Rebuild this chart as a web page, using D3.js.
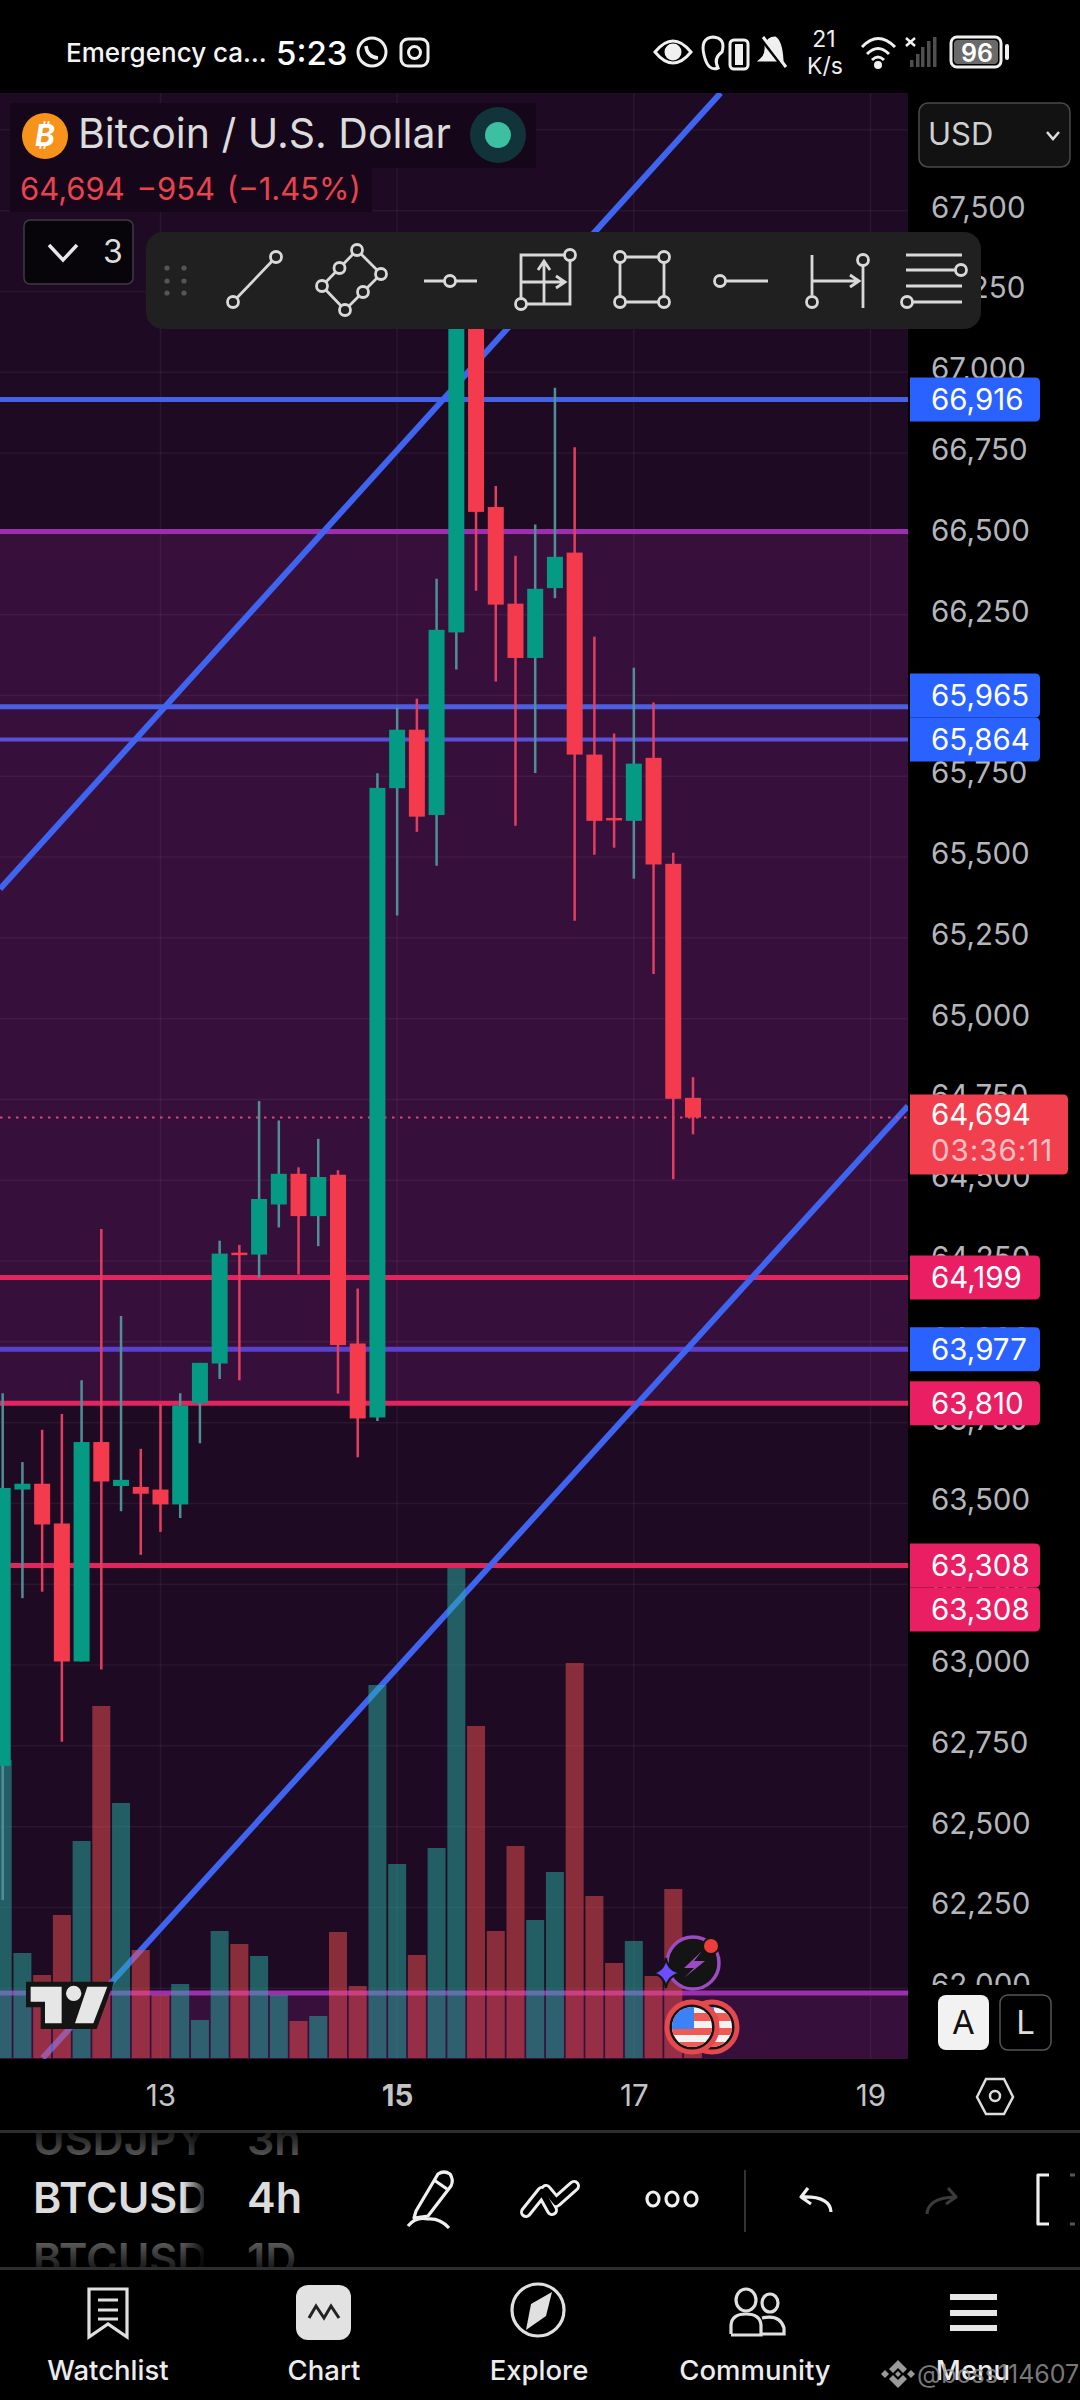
<!DOCTYPE html>
<html>
<head>
<meta charset="utf-8">
<script src="https://cdnjs.cloudflare.com/ajax/libs/d3/7.8.5/d3.min.js"></script>
<style>
  html, body { margin: 0; background: #000; }
  svg { display: block; }
  text { font-family: Inter, Roboto, sans-serif; }
</style>
</head>
<body>
<div id="chart"></div>
<script>
// 4h candles
const candleOpen = [62688, 63543, 63561, 63438, 63011, 63690, 63554, 63551, 63543, 63497, 63810, 63933,
  64276, 64270, 64425, 64520, 64389, 64517, 63995, 63766, 65713, 65894, 65630, 66195,
  67317, 66583, 66284, 66116, 66332, 66442, 65817, 65621, 65612, 65807, 65479, 64755];
const candleHigh = [63841, 63628, 63728, 63777, 63881, 64349, 64080, 63669, 63807, 63841, 63935, 64313,
  64300, 64745, 64685, 64540, 64628, 64531, 64165, 65759, 65963, 65990, 66361, 67400,
  67400, 66648, 66432, 66529, 66952, 66768, 66182, 65882, 66086, 65978, 65513, 64819];
const candleLow = [62273, 63207, 63227, 62763, 63011, 62986, 63476, 63341, 63412, 63455, 63686, 63885,
  63881, 64198, 64354, 64208, 64296, 63840, 63643, 63755, 65319, 65578, 65473, 66080,
  66324, 66043, 65597, 65760, 66301, 65303, 65507, 65529, 65433, 65138, 64503, 64642];
const candleClose = [63548, 63561, 63435, 63011, 63690, 63568, 63573, 63530, 63497, 63803, 63935, 64273,
  64269, 64442, 64520, 64389, 64510, 63990, 63763, 65714, 65894, 65625, 66203, 67317,
  66568, 66281, 66116, 66330, 66429, 65817, 65612, 65615, 65789, 65477, 64752, 64694];
// volume, in the pane's own units (no scale shown)
const volumes = [298, 105, 83, 143, 217, 352, 255, 108, 63, 74, 38, 127,
  114, 102, 63, 37, 42, 126, 72, 373, 194, 103, 210, 490,
  332, 127, 212, 138, 186, 395, 162, 95, 117, 82, 169, 8];

const priceTicks = [67750, 67500, 67250, 67000, 66750, 66500, 66250, 66000, 65750, 65500, 65250, 65000,
  64750, 64500, 64250, 64000, 63750, 63500, 63250, 63000, 62750, 62500, 62250, 62000];
const timeTickIndex = [8, 20, 32, 44];
const timeTickLabels = ["13", "15", "17", "19"];

const levelPrices = [66916, 66507, 65965, 65864, 64199, 63977, 63810, 63308, 61985];
const levelKinds = ["blue", "purple", "blue2", "blue3", "pink", "blue4", "pink", "pink", "purple"];
const bandTop = [66507, 61985];
const bandBottom = [63810, 61700];
// trend lines: candle index / price at both ends
const trendIndex = [[-0.14, 36.4], [2.03, 45.9]];
const trendPrice = [[65401, 67864], [61784, 64730]];

const tagPrices = [66916, 65965, 65864, 64199, 63977, 63810, 63308, 63308];
const tagKinds = ["blue", "blue", "blue", "pink", "blue", "pink", "pink", "pink"];
const lastPrice = 64694;
const lastCountdown = "03:36:11";

const navLabels = ["Watchlist", "Chart", "Explore", "Community", "Menu"];
const pickerSymbols = ["USDJPY", "BTCUSD", "BTCUSD"];
const pickerFrames = ["3h", "4h", "1D"];

const width = 1080, height = 2400;
const plotW = 908, plotTop = 93, plotBottom = 2059;

const green = "#059a83", red = "#f43b4d";
const lineColors = { blue: "#4362e6", blue2: "#4a5fe2", blue3: "#5a50d8", blue4: "#5a40cc", purple: "#9c2fae", pink: "#e0255f" };
const tagColors = { blue: "#2962ff", pink: "#e91e63" };

var x = d3.scaleLinear().domain([0, 44]).range([2.7, 870.5]);
var y = d3.scaleLinear().domain([66916, 63308]).range([399.4, 1565.5]);
var yVol = d3.scaleLinear().domain([0, 500]).range([2058, 1558]);

var svg = d3.select("#chart").append("svg").attr("width", width).attr("height", height);
svg.append("rect").attr("width", width).attr("height", height).attr("fill", "#000");

svg.append("clipPath").attr("id", "plot").append("rect")
  .attr("x", 0).attr("y", plotTop).attr("width", plotW).attr("height", plotBottom - plotTop);

var plot = svg.append("g").attr("clip-path", "url(#plot)");
plot.append("rect").attr("x", 0).attr("y", plotTop).attr("width", plotW).attr("height", plotBottom - plotTop).attr("fill", "#1f0a24");

// zones
plot.selectAll(".band").data(bandTop).enter().append("rect")
  .attr("x", 0).attr("width", plotW)
  .attr("y", (d) => y(d))
  .attr("height", (d, i) => y(bandBottom[i]) - y(d))
  .attr("fill", "#370f3b");

// grid
plot.selectAll(".gh").data(priceTicks).enter().append("line")
  .attr("x1", 0).attr("x2", plotW).attr("y1", (d) => y(d)).attr("y2", (d) => y(d))
  .attr("stroke", "rgba(255,255,255,0.05)").attr("stroke-width", 1.5);
plot.selectAll(".gv").data(timeTickIndex).enter().append("line")
  .attr("x1", (d) => x(d)).attr("x2", (d) => x(d)).attr("y1", plotTop).attr("y2", plotBottom)
  .attr("stroke", "rgba(255,255,255,0.05)").attr("stroke-width", 1.5);

// drawn levels and trend lines
plot.selectAll(".level").data(levelPrices).enter().append("line")
  .attr("x1", 0).attr("x2", plotW).attr("y1", (d) => y(d)).attr("y2", (d) => y(d))
  .attr("stroke", (d, i) => lineColors[levelKinds[i]])
  .attr("stroke-width", (d, i) => (levelKinds[i] == "blue3" ? 4 : 5));
plot.selectAll(".trend").data(trendIndex).enter().append("line")
  .attr("x1", (d) => x(d[0])).attr("x2", (d) => x(d[1]))
  .attr("y1", (d, i) => y(trendPrice[i][0])).attr("y2", (d, i) => y(trendPrice[i][1]))
  .attr("stroke", "#3f65f0").attr("stroke-width", 6);

// volume
plot.selectAll(".vol").data(volumes).enter().append("rect")
  .attr("x", (d, i) => x(i) - 9).attr("width", 18)
  .attr("y", (d) => yVol(d)).attr("height", (d) => yVol(0) - yVol(d))
  .attr("fill", (d, i) => (candleClose[i] >= candleOpen[i] ? "#25b2a4" : "#f55052"))
  .attr("fill-opacity", 0.5);

// last price dotted line
plot.append("line").attr("x1", 0).attr("x2", plotW).attr("y1", y(lastPrice)).attr("y2", y(lastPrice))
  .attr("stroke", "#e8436e").attr("stroke-width", 2).attr("stroke-dasharray", "2.5 5.5");

// candles
var candle = plot.selectAll(".candle").data(candleOpen).enter().append("g");
candle.append("line")
  .attr("x1", (d, i) => x(i)).attr("x2", (d, i) => x(i))
  .attr("y1", (d, i) => y(candleHigh[i])).attr("y2", (d, i) => y(candleLow[i]))
  .attr("stroke", (d, i) => (candleClose[i] >= d ? "#4f9096" : "#e23f60")).attr("stroke-width", 2.5);
candle.append("rect")
  .attr("x", (d, i) => x(i) - 8).attr("width", 16)
  .attr("y", (d, i) => y(Math.max(d, candleClose[i])))
  .attr("height", (d, i) => Math.max(2.5, Math.abs(y(d) - y(candleClose[i]))))
  .attr("fill", (d, i) => (candleClose[i] >= d ? green : red));

// price axis
var yAxis = svg.append("g").attr("transform", "translate(931,0)")
  .call(d3.axisRight(y).tickValues(priceTicks).tickFormat(d3.format(",")).tickSize(0).tickPadding(0));
yAxis.select(".domain").remove();
yAxis.selectAll("text").attr("fill", "#b4b6bb").attr("font-size", 29.5).attr("dy", "0.22em");
svg.append("rect").attr("x", 908).attr("y", 1985).attr("width", 172).attr("height", 74).attr("fill", "#000");

// time axis
var xAxis = svg.append("g").attr("transform", "translate(0," + plotBottom + ")")
  .call(d3.axisBottom(x).tickValues(timeTickIndex).tickFormat((d, i) => timeTickLabels[i]).tickSize(0).tickPadding(26));
xAxis.select(".domain").remove();
xAxis.selectAll("text").attr("fill", "#c4c4c4").attr("font-size", 29.5).attr("font-weight", (d, i) => (i == 1 ? 700 : 400));

// price tags, pushed apart where they would overlap
function tagPath(x0, x1, y0, y1) {
  const r = 5;
  return "M" + x0 + "," + y0 + "H" + (x1 - r) + "Q" + x1 + "," + y0 + " " + x1 + "," + (y0 + r) +
    "V" + (y1 - r) + "Q" + x1 + "," + y1 + " " + (x1 - r) + "," + y1 + "H" + x0 + "Z";
}
const tagY = tagPrices.map((d) => y(d));
tagPrices.forEach((d, i) => {
  if (i == 0 || tagY[i] - tagY[i - 1] >= 44) return;
  if (d == tagPrices[i - 1]) tagY[i] = tagY[i - 1] + 44;
  else tagY[i - 1] = tagY[i] - 44;
});
var tags = svg.selectAll(".tag").data(tagPrices).enter().append("g");
tags.append("path")
  .attr("d", (d, i) => tagPath(910, 1040, tagY[i] - 22, tagY[i] + 22))
  .attr("fill", (d, i) => tagColors[tagKinds[i]]);
tags.append("text").attr("x", 931).attr("y", (d, i) => tagY[i]).attr("dy", "0.36em")
  .attr("fill", "#fff").attr("font-size", 29.5).text((d) => d3.format(",")(d));

svg.append("path").attr("d", tagPath(910, 1068, y(lastPrice) - 23, y(lastPrice) + 57)).attr("fill", "#f23f4e");
svg.append("text").attr("x", 931).attr("y", y(lastPrice) - 3).attr("dy", "0.36em").attr("fill", "#fff")
  .attr("font-size", 29.5).text(d3.format(",")(lastPrice));
svg.append("text").attr("x", 931).attr("y", y(lastPrice) + 33).attr("dy", "0.36em").attr("fill", "#ffc0c4")
  .attr("font-size", 29.5).attr("letter-spacing", 1).text(lastCountdown);

// legend
svg.append("rect").attr("x", 10).attr("y", 103).attr("width", 526).attr("height", 65).attr("fill", "#16061a");
svg.append("rect").attr("x", 10).attr("y", 168).attr("width", 362).attr("height", 44).attr("fill", "#16061a");
svg.append("circle").attr("cx", 45).attr("cy", 136).attr("r", 23).attr("fill", "#f7931a");
svg.append("text").attr("x", 45).attr("y", 146).attr("text-anchor", "middle").attr("fill", "#fff")
  .attr("font-size", 30).attr("font-weight", 700).attr("font-style", "italic").text("₿");
svg.append("text").attr("x", 78).attr("y", 148).attr("fill", "#dcdcdc").attr("font-size", 41).text("Bitcoin / U.S. Dollar");
svg.append("circle").attr("cx", 498).attr("cy", 135).attr("r", 28).attr("fill", "#11333a");
svg.append("circle").attr("cx", 498).attr("cy", 135).attr("r", 13).attr("fill", "#3dbfa2");
svg.append("text").attr("x", 20).attr("y", 200).attr("fill", "#e8444f").attr("font-size", 31).attr("word-spacing", 3)
  .text(d3.format(",")(lastPrice) + " −954 (−1.45%)");

svg.append("rect").attr("x", 24).attr("y", 220).attr("width", 109).attr("height", 64).attr("rx", 6)
  .attr("fill", "#07040a").attr("stroke", "#3c3c44").attr("stroke-width", 1.5);
svg.append("path").attr("d", "M49,245L63,260L77,245").attr("fill", "none").attr("stroke", "#e8e8e8").attr("stroke-width", 3.5);
svg.append("text").attr("x", 103).attr("y", 263).attr("fill", "#ddd").attr("font-size", 32).text("3");

// USD box
svg.append("rect").attr("x", 919).attr("y", 103).attr("width", 151).attr("height", 64).attr("rx", 9)
  .attr("fill", "#121212").attr("stroke", "#4a4a4a").attr("stroke-width", 1.5);
svg.append("text").attr("x", 928).attr("y", 145).attr("fill", "#d0d0d0").attr("font-size", 31).text("USD");
svg.append("path").attr("d", "M1047,132L1053,139L1059,132").attr("fill", "none").attr("stroke", "#ddd").attr("stroke-width", 2.5);

// floating drawing toolbar
svg.append("rect").attr("x", 146).attr("y", 232).attr("width", 835).attr("height", 97).attr("rx", 17).attr("fill", "#202020");
var tb = svg.append("g").attr("fill", "none").attr("stroke", "#d9d9d9").attr("stroke-width", 2.8);
[167, 184].forEach((a) => [268, 281, 293].forEach((b) =>
  tb.append("circle").attr("cx", a).attr("cy", b).attr("r", 2.6).attr("fill", "#555").attr("stroke", "none")));
function tl(d) { tb.append("path").attr("d", d); }
function th(a, b) { tb.append("circle").attr("cx", a).attr("cy", b).attr("r", 5.5).attr("fill", "#202020"); }
tl("M233,302L276,257"); th(233, 302); th(276, 257);
tl("M357,250L322,286L345,310L381,274Z");
[[357, 250], [339.5, 268], [322, 286], [345, 310], [363, 292], [381, 274]].forEach((p) => th(p[0], p[1]));
tl("M424,281H477"); th(450, 281);
tl("M570,255H521V304H570V255"); tl("M544,304V262M538,270L544,261L550,270"); tl("M521,282H564M556,276L565,282L556,288");
th(570, 255); th(521, 304);
tl("M620,257H664V302H620Z"); th(620, 257); th(664, 257); th(620, 302); th(664, 302);
th(720, 281); tl("M726,281H768");
tl("M812,255V295M812,281H858M850,275L859,281L850,287M863,266V308"); th(812, 302); th(863, 260);
tl("M906,255H962M906,270H955M906,286H962M913,302H962"); th(961, 270); th(907, 302);

// small markers on the chart
var tv = svg.append("g").attr("transform", "translate(0,1950) scale(0.3333)");
tv.append("path").attr("d", "M78,95H342L290,237H122V172H78Z").attr("fill", "#141414");
tv.append("path").attr("d", "M92,110H185V220H135V155H92Z").attr("fill", "#e6e6e6");
tv.append("circle").attr("cx", 221).attr("cy", 130).attr("r", 23).attr("fill", "#e6e6e6");
tv.append("path").attr("d", "M262,110H322L280,220H225Z").attr("fill", "#e6e6e6");

svg.append("circle").attr("cx", 693).attr("cy", 1963).attr("r", 26).attr("fill", "#141414").attr("stroke", "#9c4cc0").attr("stroke-width", 3.5);
svg.append("path").attr("d", "M702,1951L684,1968H694L684,1978L705,1961H694Z").attr("fill", "#9c4cc0");
svg.append("circle").attr("cx", 711).attr("cy", 1946).attr("r", 8).attr("fill", "#ee3b3b").attr("stroke", "#141414").attr("stroke-width", 2);
svg.append("path").attr("d", "M666,1958Q668,1971 682,1973Q668,1975 666,1988Q664,1975 652,1973Q664,1971 666,1958Z")
  .attr("fill", "#6c4dff").attr("stroke", "#141414").attr("stroke-width", 2);

function flag(cx, id) {
  const cy = 2027, r = 20;
  svg.append("clipPath").attr("id", id).append("circle").attr("cx", cx).attr("cy", cy).attr("r", r);
  svg.append("circle").attr("cx", cx).attr("cy", cy).attr("r", 25).attr("fill", "#141414").attr("stroke", "#e5484d").attr("stroke-width", 5);
  var g = svg.append("g").attr("clip-path", "url(#" + id + ")");
  g.append("rect").attr("x", cx - r).attr("y", cy - r).attr("width", 2 * r).attr("height", 2 * r).attr("fill", "#f2f2f2");
  g.append("rect").attr("x", cx - r).attr("y", cy - 14).attr("width", 2 * r).attr("height", 8).attr("fill", "#f05a55");
  g.append("rect").attr("x", cx - r).attr("y", cy + 1).attr("width", 2 * r).attr("height", 7).attr("fill", "#f05a55");
  g.append("rect").attr("x", cx - r).attr("y", cy + 15).attr("width", 2 * r).attr("height", 6).attr("fill", "#f05a55");
  g.append("rect").attr("x", cx - r).attr("y", cy - r).attr("width", r + 2).attr("height", r + 2).attr("fill", "#3b82f6");
}
flag(712, "flagB");
flag(692, "flagA");

// A / L buttons
svg.append("rect").attr("x", 938).attr("y", 1995).attr("width", 51).attr("height", 55).attr("rx", 8).attr("fill", "#f2f2f2");
svg.append("text").attr("x", 963.5).attr("y", 2034).attr("text-anchor", "middle").attr("fill", "#111").attr("font-size", 33).text("A");
svg.append("rect").attr("x", 1000).attr("y", 1995).attr("width", 51).attr("height", 55).attr("rx", 8).attr("fill", "#000").attr("stroke", "#555").attr("stroke-width", 1.5);
svg.append("text").attr("x", 1025.5).attr("y", 2034).attr("text-anchor", "middle").attr("fill", "#ddd").attr("font-size", 33).text("L");
svg.append("path").attr("d", "M977,2097L986,2079H1004L1013,2097L1004,2114H986Z").attr("fill", "none").attr("stroke", "#ddd").attr("stroke-width", 2.5);
svg.append("circle").attr("cx", 995).attr("cy", 2096).attr("r", 5).attr("fill", "none").attr("stroke", "#ddd").attr("stroke-width", 2.5);

// status bar
svg.append("text").attr("x", 66).attr("y", 62).attr("fill", "#f4f4f4").attr("font-size", 26).attr("font-weight", 500).text("Emergency ca…");
svg.append("text").attr("x", 276).attr("y", 65).attr("fill", "#fff").attr("font-size", 33).attr("font-weight", 500).text("5:23");
var st = svg.append("g").attr("fill", "none").attr("stroke", "#f0f0f0").attr("stroke-width", 3);
st.append("circle").attr("cx", 372).attr("cy", 52).attr("r", 14);
st.append("path").attr("d", "M366,46Q367,57 378,58").attr("stroke-width", 3.5);
st.append("rect").attr("x", 401).attr("y", 39).attr("width", 27).attr("height", 27).attr("rx", 7);
st.append("circle").attr("cx", 414.5).attr("cy", 52.5).attr("r", 6);
st.append("path").attr("d", "M655,52Q673,30 691,52Q673,74 655,52Z");
st.append("circle").attr("cx", 673).attr("cy", 52).attr("r", 7).attr("fill", "#f0f0f0");
st.append("path").attr("d", "M704,55Q700,38 713,37Q726,38 722,52Q713,58 718,68Q708,72 704,55Z");
st.append("rect").attr("x", 730).attr("y", 40).attr("width", 18).attr("height", 29).attr("rx", 4);
st.append("rect").attr("x", 735).attr("y", 44).attr("width", 8).attr("height", 21).attr("fill", "#f0f0f0").attr("stroke", "none");
st.append("path").attr("d", "M761,60Q767,55 766,46Q768,38 775,38Q781,42 782,60Z").attr("fill", "#f0f0f0");
st.append("path").attr("d", "M761,37L785,68").attr("stroke", "#000").attr("stroke-width", 5);
st.append("path").attr("d", "M763,37L786,67");
svg.append("text").attr("x", 824).attr("y", 47).attr("text-anchor", "middle").attr("fill", "#f0f0f0").attr("font-size", 23).text("21");
svg.append("text").attr("x", 825).attr("y", 74).attr("text-anchor", "middle").attr("fill", "#f0f0f0").attr("font-size", 23).text("K/s");
st.append("path").attr("d", "M862,47Q878,30 895,47M867,54Q878,43 889,54M872,60Q878,54 884,60");
st.append("circle").attr("cx", 878).attr("cy", 65).attr("r", 2.5).attr("fill", "#f0f0f0");
svg.append("path").attr("d", "M906,38L915,46M915,38L906,46").attr("stroke", "#f0f0f0").attr("stroke-width", 2.5);
[[910, 60], [916, 54], [921, 47], [927, 41], [933, 37]].forEach((b) =>
  svg.append("rect").attr("x", b[0]).attr("y", b[1]).attr("width", 3.5).attr("height", 67 - b[1]).attr("fill", "#4f4f4f"));
st.append("rect").attr("x", 951).attr("y", 37).attr("width", 50).attr("height", 30).attr("rx", 6);
svg.append("rect").attr("x", 954).attr("y", 40).attr("width", 44).attr("height", 24).attr("rx", 4).attr("fill", "#6a6a6a");
svg.append("rect").attr("x", 1005).attr("y", 44).attr("width", 4).attr("height", 16).attr("rx", 2).attr("fill", "#f0f0f0");
svg.append("text").attr("x", 977).attr("y", 62).attr("text-anchor", "middle").attr("fill", "#fff").attr("font-size", 25).attr("font-weight", 600).text("96");

// symbol picker
svg.append("rect").attr("x", 0).attr("y", 2130).attr("width", width).attr("height", 3).attr("fill", "#2e2e2e");
svg.append("rect").attr("x", 0).attr("y", 2267).attr("width", width).attr("height", 3).attr("fill", "#2e2e2e");
svg.append("clipPath").attr("id", "picker").append("rect").attr("x", 0).attr("y", 2133).attr("width", 204).attr("height", 134);
svg.append("clipPath").attr("id", "pickerF").append("rect").attr("x", 204).attr("y", 2133).attr("width", 200).attr("height", 134);
var defs = svg.append("defs");
var fade = defs.append("linearGradient").attr("id", "fadeR");
fade.append("stop").attr("offset", "60%").attr("stop-color", "#000").attr("stop-opacity", 0);
fade.append("stop").attr("offset", "100%").attr("stop-color", "#000").attr("stop-opacity", 0.85);
var fadeV = defs.append("linearGradient").attr("id", "fadeV").attr("gradientUnits", "userSpaceOnUse")
  .attr("x1", 0).attr("x2", 0).attr("y1", 2133).attr("y2", 2267);
[[0, "#1c1c1c"], [0.17, "#555"], [0.32, "#dcdcdc"], [0.68, "#dcdcdc"], [0.83, "#555"], [1, "#1c1c1c"]].forEach((s) =>
  fadeV.append("stop").attr("offset", s[0]).attr("stop-color", s[1]));
const pickerY = [2140, 2198, 2259];
svg.append("g").attr("clip-path", "url(#picker)").selectAll("text").data(pickerSymbols).enter().append("text")
  .attr("x", 33).attr("y", (d, i) => pickerY[i]).attr("dy", "0.36em")
  .attr("fill", "url(#fadeV)").attr("font-size", 43).attr("font-weight", 600).text((d) => d);
svg.append("rect").attr("x", 150).attr("y", 2133).attr("width", 55).attr("height", 134).attr("fill", "url(#fadeR)");
svg.append("g").attr("clip-path", "url(#pickerF)").selectAll("text").data(pickerFrames).enter().append("text")
  .attr("x", 247).attr("y", (d, i) => pickerY[i]).attr("dy", "0.36em")
  .attr("fill", "url(#fadeV)").attr("font-size", 43).attr("font-weight", 600).text((d) => d);

var bt = svg.append("g").attr("fill", "none").attr("stroke", "#f0f0f0").attr("stroke-width", 3.2).attr("stroke-linejoin", "round");
bt.append("path").attr("d", "M416,2211L438,2174Q444,2170 450,2174Q454,2180 451,2186L428,2216L414,2218Z");
bt.append("path").attr("d", "M434,2180L447,2189");
bt.append("path").attr("d", "M408,2226Q416,2216 428,2219Q440,2218 449,2228");
[["#f0f0f0", 12], ["#000", 6]].forEach((s) => {
  svg.append("path").attr("d", "M526,2212L542,2192L552,2210").attr("fill", "none").attr("stroke", s[0]).attr("stroke-width", s[1]).attr("stroke-linejoin", "round").attr("stroke-linecap", "round");
  svg.append("path").attr("d", "M546,2190L556,2202L574,2186").attr("fill", "none").attr("stroke", s[0]).attr("stroke-width", s[1]).attr("stroke-linejoin", "round").attr("stroke-linecap", "round");
});
[653, 672, 691].forEach((a) => bt.append("ellipse").attr("cx", a).attr("cy", 2199).attr("rx", 6).attr("ry", 7));
svg.append("rect").attr("x", 744).attr("y", 2170).attr("width", 2).attr("height", 62).attr("fill", "#333");
bt.append("path").attr("d", "M808,2188L801,2197L811,2204M802,2197Q830,2196 831,2212");
bt.append("path").attr("d", "M948,2188L956,2197L946,2204M955,2197Q928,2198 927,2214").attr("stroke", "#3a3a3a");
bt.append("path").attr("d", "M1049,2175H1038V2224H1049");
bt.append("path").attr("d", "M1070,2175H1075M1070,2224H1075").attr("stroke", "#555");

// bottom navigation
svg.selectAll(".nav").data(navLabels).enter().append("text")
  .attr("x", (d, i) => [108, 324, 539, 755, 973][i]).attr("y", 2380).attr("text-anchor", "middle")
  .attr("fill", "#ececec").attr("font-size", 27.5).attr("font-weight", 500).text((d) => d);
var nv = svg.append("g").attr("fill", "none").attr("stroke", "#e0e0e0").attr("stroke-width", 3.2);
nv.append("path").attr("d", "M89,2289H127V2337L108,2324L89,2337Z");
nv.append("path").attr("d", "M98,2300H118M98,2310H118M98,2319H118");
svg.append("rect").attr("x", 296).attr("y", 2285).attr("width", 55).attr("height", 55).attr("rx", 12).attr("fill", "#e2e2e2");
svg.append("path").attr("d", "M309,2318L316,2306L324,2318L331,2306L339,2318").attr("fill", "none").attr("stroke", "#222").attr("stroke-width", 3);
nv.append("circle").attr("cx", 538).attr("cy", 2310).attr("r", 26);
svg.append("path").attr("d", "M552,2292L546,2316L526,2330L531,2304Z").attr("fill", "#e0e0e0");
nv.append("ellipse").attr("cx", 746).attr("cy", 2300).attr("rx", 10).attr("ry", 11);
nv.append("ellipse").attr("cx", 770).attr("cy", 2303).attr("rx", 8).attr("ry", 9);
nv.append("path").attr("d", "M731,2334V2325Q732,2314 746,2314Q760,2314 761,2325V2335H731");
nv.append("path").attr("d", "M762,2318Q780,2314 784,2328V2334H762");
[2297, 2313, 2328].forEach((a) =>
  svg.append("rect").attr("x", 950).attr("y", a - 3).attr("width", 47).attr("height", 6).attr("fill", "#e6e6e6"));

// watermark
svg.append("text").attr("x", 917).attr("y", 2383).attr("fill", "#9a9a9a").attr("fill-opacity", 0.8).attr("font-size", 25).text("@boss114607");
svg.append("path").attr("d", "M898,2360L907,2369L903,2373L898,2368L893,2373L889,2369ZM898,2388L907,2379L903,2375L898,2380L893,2375L889,2379ZM885,2370L889,2374L885,2378L881,2374ZM911,2370L915,2374L911,2378L907,2374ZM898,2371L901,2374L898,2377L895,2374Z")
  .attr("fill", "#9a9a9a");
</script>
</body>
</html>
